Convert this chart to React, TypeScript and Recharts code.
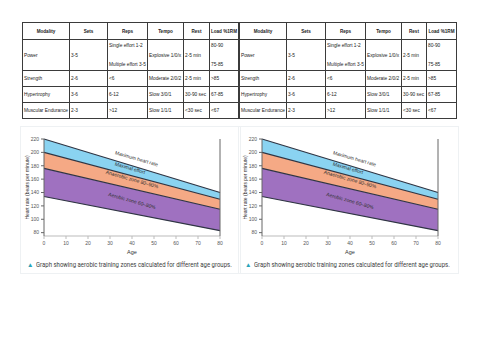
import React, { useLayoutEffect, useRef, useState } from 'react';
import {
  ComposedChart,
  Area,
  Line,
  XAxis,
  YAxis,
  ReferenceDot,
} from 'recharts';

// table content
const TABLE_HEADERS = ['Modality', 'Sets', 'Reps', 'Tempo', 'Rest', 'Load %1RM'];
const TABLE_ROWS: string[][][] = [
  [['Power'], ['3-5'], ['Single effort 1-2', 'Multiple effort 3-5'], ['Explosive 1/0/x'], ['2-5 min'], ['80-90', '75-85']],
  [['Strength'], ['2-6'], ['<6'], ['Moderate 2/0/2'], ['2-5 min'], ['>85']],
  [['Hypertrophy'], ['3-6'], ['6-12'], ['Slow 3/0/1'], ['30-90 sec'], ['67-85']],
  [['Muscular Endurance'], ['2-3'], ['>12'], ['Slow 1/1/1'], ['<30 sec'], ['<67']],
];

// heart rate chart
const AGES = [0, 80];
const MAX_HR = [220, 140];
const MAXIMAL_EFFORT = [200, 130];
const ANAEROBIC_TOP = [176, 115];
const AEROBIC_LOW = [134, 83];
const X_TICKS = [0, 10, 20, 30, 40, 50, 60, 70, 80];
const Y_TICKS = [80, 100, 120, 140, 160, 180, 200, 220];
const CAPTION = 'Graph showing aerobic training zones calculated for different age groups.';

const chartData = AGES.map((age, i) => ({
  age,
  maxHr: MAX_HR[i],
  maximal: MAXIMAL_EFFORT[i],
  anaerobic: ANAEROBIC_TOP[i],
  aerobicLow: AEROBIC_LOW[i],
}));

const FONT = '"Liberation Sans", Arial, sans-serif';
const LINE = '#2f3543';

function zoneLabel(text: string) {
  return (props: any) => (
    <text
      x={props.cx}
      y={props.cy}
      transform={`rotate(16, ${props.cx}, ${props.cy})`}
      textAnchor="middle"
      dominantBaseline="middle"
      fontSize={5}
      fill="#333"
      fontFamily={FONT}
    >
      {text}
    </text>
  );
}

// caption squeezed to the width it takes in the picture
function Caption({ width }: { width: number }) {
  const ref = useRef<HTMLSpanElement>(null);
  const [scale, setScale] = useState(1);
  useLayoutEffect(() => {
    if (ref.current) setScale(width / ref.current.offsetWidth);
  }, [width]);
  return (
    <div style={{ position: 'absolute', left: 6, top: 131, height: 12, display: 'flex', alignItems: 'center', whiteSpace: 'nowrap' }}>
      <span style={{ color: '#2aa3b8', fontSize: 6.5, fontFamily: FONT, marginRight: 3 }}>▲</span>
      <span
        ref={ref}
        style={{
          display: 'inline-block',
          fontFamily: 'Roboto, sans-serif',
          fontSize: 7.8,
          color: '#3d3d3d',
          transform: `scaleX(${scale})`,
          transformOrigin: 'left center',
        }}
      >
        {CAPTION}
      </span>
    </div>
  );
}

function TrainingTable({ left, widths }: { left: number; widths: number[] }) {
  const border = '1px solid #3b3b3b';
  const rowHeights = [31, 16, 16, 16];
  return (
    <table
      style={{
        position: 'absolute',
        left,
        top: 22,
        borderCollapse: 'collapse',
        tableLayout: 'fixed',
        fontFamily: FONT,
        fontSize: 4.8,
        color: '#222',
        border: '1.5px solid #2b2b2b',
      }}
    >
      <colgroup>
        {widths.map((w, i) => (
          <col key={i} style={{ width: w }} />
        ))}
      </colgroup>
      <thead>
        <tr style={{ height: 17 }}>
          {TABLE_HEADERS.map((h) => (
            <th key={h} style={{ border, fontWeight: 700, fontSize: 4.6, padding: 0, textAlign: 'center', whiteSpace: 'nowrap', overflow: 'hidden' }}>
              {h}
            </th>
          ))}
        </tr>
      </thead>
      <tbody>
        {TABLE_ROWS.map((row, r) => (
          <tr key={r} style={{ height: rowHeights[r] }}>
            {row.map((cell, c) => (
              <td key={c} style={{ border, padding: '0 1px', verticalAlign: 'middle', whiteSpace: 'nowrap', overflow: 'hidden' }}>
                {cell.length > 1 ? (
                  <div style={{ display: 'flex', flexDirection: 'column', justifyContent: 'space-between', height: 24 }}>
                    <span>{cell[0]}</span>
                    <span>{cell[1]}</span>
                  </div>
                ) : (
                  cell[0]
                )}
              </td>
            ))}
          </tr>
        ))}
      </tbody>
    </table>
  );
}

function HeartRateChart({ left }: { left: number }) {
  const tick = { fontSize: 5, fill: '#555', fontFamily: FONT };
  return (
    <div style={{ position: 'absolute', left, top: 126, width: 219, height: 146, border: '1px solid #eef1f3' }}>
      <ComposedChart
        width={219}
        height={130}
        data={chartData}
        margin={{ top: 12, right: 0, bottom: 1, left: 0 }}
      >
        <XAxis
          dataKey="age"
          type="number"
          domain={[0, 80]}
          ticks={X_TICKS}
          tick={tick}
          tickSize={3}
          stroke="#bbb"
          height={20}
          label={{ value: 'Age', position: 'insideBottom', offset: 2, style: { fontSize: 5.5, fill: '#333', fontFamily: FONT } }}
        />
        <YAxis
          yAxisId="left"
          domain={[75, 220]}
          ticks={Y_TICKS}
          tick={tick}
          tickSize={3}
          width={23}
          stroke="#666"
          label={{
            value: 'Heart rate (beats per minute)',
            angle: -90,
            position: 'insideLeft',
            offset: 6,
            style: { textAnchor: 'middle', fontSize: 5, fill: '#333', fontFamily: FONT },
          }}
        />
        <YAxis
          yAxisId="right"
          orientation="right"
          domain={[75, 220]}
          ticks={Y_TICKS}
          tick={tick}
          tickSize={3}
          width={20}
          stroke="#666"
        />
        <Area yAxisId="left" dataKey={(d: any) => [d.maximal, d.maxHr]} fill="#8ad3f1" fillOpacity={1} stroke="none" isAnimationActive={false} />
        <Area yAxisId="left" dataKey={(d: any) => [d.anaerobic, d.maximal]} fill="#f5a985" fillOpacity={1} stroke="none" isAnimationActive={false} />
        <Area yAxisId="left" dataKey={(d: any) => [d.aerobicLow, d.anaerobic]} fill="#9f71c0" fillOpacity={1} stroke="none" isAnimationActive={false} />
        <Line yAxisId="left" dataKey="maxHr" stroke={LINE} strokeWidth={1.2} dot={false} isAnimationActive={false} />
        <Line yAxisId="left" dataKey="maximal" stroke={LINE} strokeWidth={1.2} dot={false} isAnimationActive={false} />
        <Line yAxisId="left" dataKey="anaerobic" stroke={LINE} strokeWidth={1.2} dot={false} isAnimationActive={false} />
        <Line yAxisId="left" dataKey="aerobicLow" stroke={LINE} strokeWidth={1.2} dot={false} isAnimationActive={false} />
        <ReferenceDot yAxisId="left" x={42} y={190} r={0} shape={zoneLabel('Maximum heart rate')} />
        <ReferenceDot yAxisId="left" x={39} y={176} r={0} shape={zoneLabel('Maximal effort')} />
        <ReferenceDot yAxisId="left" x={40} y={159} r={0} shape={zoneLabel('Anaerobic zone 80–90%')} />
        <ReferenceDot yAxisId="left" x={40} y={127} r={0} shape={zoneLabel('Aerobic zone 60–80%')} />
      </ComposedChart>
      <Caption width={196} />
    </div>
  );
}

export default function App() {
  return (
    <div style={{ position: 'absolute', left: 0, top: 0, width: 500, height: 353, background: '#fff', overflow: 'hidden' }}>
      <TrainingTable left={22} widths={[45, 38, 39, 36, 26, 29]} />
      <TrainingTable left={239} widths={[44, 39, 38, 36, 25, 30]} />
      <HeartRateChart left={20} />
      <HeartRateChart left={238} />
    </div>
  );
}
